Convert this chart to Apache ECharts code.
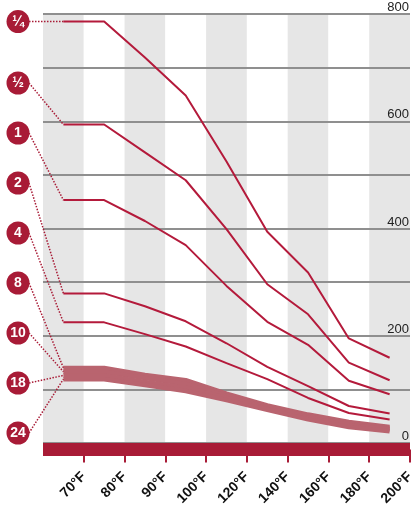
<!DOCTYPE html>
<html>
<head>
<meta charset="utf-8">
<script src="https://cdn.jsdelivr.net/npm/echarts@6/dist/echarts.min.js"></script>
<style>
  html, body { margin: 0; padding: 0; background: #fff; }
  #main { width: 420px; height: 514px; }
</style>
</head>
<body>
<div id="main"></div>
<script>
// columns (labels sit on the right edge of each column)
const categories = ['70°F', '80°F', '90°F', '100°F', '120°F', '140°F', '160°F', '180°F', '200°F']
const yTicks = [0, 200, 400, 600, 800]

const names = ['¼', '½', '1', '2', '4', '8', '10', '18', '24']
const quarter = [786, 786, 719, 648, 525, 394, 318, 195, 159]
const half = [594, 594, 542, 490, 399, 296, 240, 150, 117]
const one = [453, 453, 414, 369, 293, 226, 183, 116, 91]
const two = [279, 279, 255, 227, 186, 142, 106, 69, 55]
const four = [225, 225, 203, 180, 149, 119, 84, 56, 44]
const eight = [140, 140, 127, 117, 92, 70, 53, 39, 30]
const ten = [133, 133, 121, 110, 88, 67, 50, 36, 27]
const eighteen = [126, 126, 114, 103, 84, 64, 47, 33, 25]
const twentyFour = [119, 119, 108, 97, 80, 62, 44, 30, 22]

const allData = [quarter, half, one, two, four, eight, ten, eighteen, twentyFour]

const RED = '#b41a3b'
const DARK = '#a81b36'
const PINK = '#b9646f'
const FONT = 'Arial, sans-serif'

const chart = echarts.init(document.getElementById('main'))

let series = allData.map((d, i) => ({
  name: names[i],
  type: 'line',
  data: d,
  symbol: 'none',
  xAxisIndex: 0,
  yAxisIndex: 0,
  z: i < 5 ? 4 : 3,
  lineStyle: i < 5 ? { color: RED, width: 2 } : { color: PINK, width: 4.5 }
}))

chart.setOption({
  animation: false,
  textStyle: { fontFamily: FONT },
  grid: { left: 43, right: 10, top: 14, bottom: 71, outerBoundsMode: 'none' },
  xAxis: [{
    type: 'category',
    data: categories,
    boundaryGap: true,
    position: 'bottom',
    z: 0,
    axisLine: { show: false },
    axisTick: { show: false, interval: 0 },
    axisLabel: { show: false, interval: 0 },
    splitLine: { show: false },
    splitArea: { show: true, interval: 0, areaStyle: { color: ['#e6e6e6', '#ffffff'] } }
  }, {
    type: 'category',
    data: [''].concat(categories),
    boundaryGap: false,
    position: 'bottom',
    offset: 6.5,
    z: 3,
    axisLine: { lineStyle: { color: DARK, width: 13, cap: 'butt' } },
    axisTick: {
      show: true,
      length: 13,
      interval: (idx) => idx > 0,
      lineStyle: { color: DARK, width: 2 }
    },
    axisLabel: {
      show: true,
      interval: 0,
      rotate: 45,
      margin: 25,
      hideOverlap: false,
      color: '#111',
      fontSize: 14,
      fontWeight: 'bold',
      fontFamily: FONT
    },
    splitLine: { show: false }
  }],
  yAxis: {
    type: 'value',
    position: 'right',
    min: 0,
    max: 800,
    interval: 100,
    z: 2,
    axisLine: { show: false },
    axisTick: { show: false },
    axisLabel: {
      inside: true,
      margin: 1,
      verticalAlign: 'bottom',
      color: '#222',
      fontSize: 13,
      fontFamily: FONT,
      formatter: (v) => yTicks.indexOf(v) >= 0 ? String(v) : ''
    },
    splitLine: { lineStyle: { color: '#8f8f8f', width: 2 } }
  },
  series
})

// badges on the left with dotted leaders to the start of each line
let graphics = []
allData.forEach((d, i) => {
  let start = chart.convertToPixel({ xAxisIndex: 0, yAxisIndex: 0 }, [categories[0], d[0]])
  let cx = 18
  let cy = i === 0 ? start[1] : 83 + 50 * (i - 1)
  graphics.push({
    type: 'polyline',
    z: 10,
    shape: { points: [[cx + 11, cy], start] },
    style: { stroke: DARK, lineWidth: 1.5, lineDash: [1.5, 1.5], fill: null }
  })
  graphics.push({
    type: 'circle',
    z: 11,
    shape: { cx, cy, r: 11.5 },
    style: { fill: DARK }
  })
  graphics.push({
    type: 'text',
    z: 12,
    x: cx,
    y: cy + 0.5,
    style: {
      text: names[i],
      fill: '#fff',
      font: 'bold 14px ' + FONT,
      textAlign: 'center',
      textVerticalAlign: 'middle',
      align: 'center',
      verticalAlign: 'middle'
    }
  })
})
chart.setOption({ graphic: graphics })
</script>
</body>
</html>
